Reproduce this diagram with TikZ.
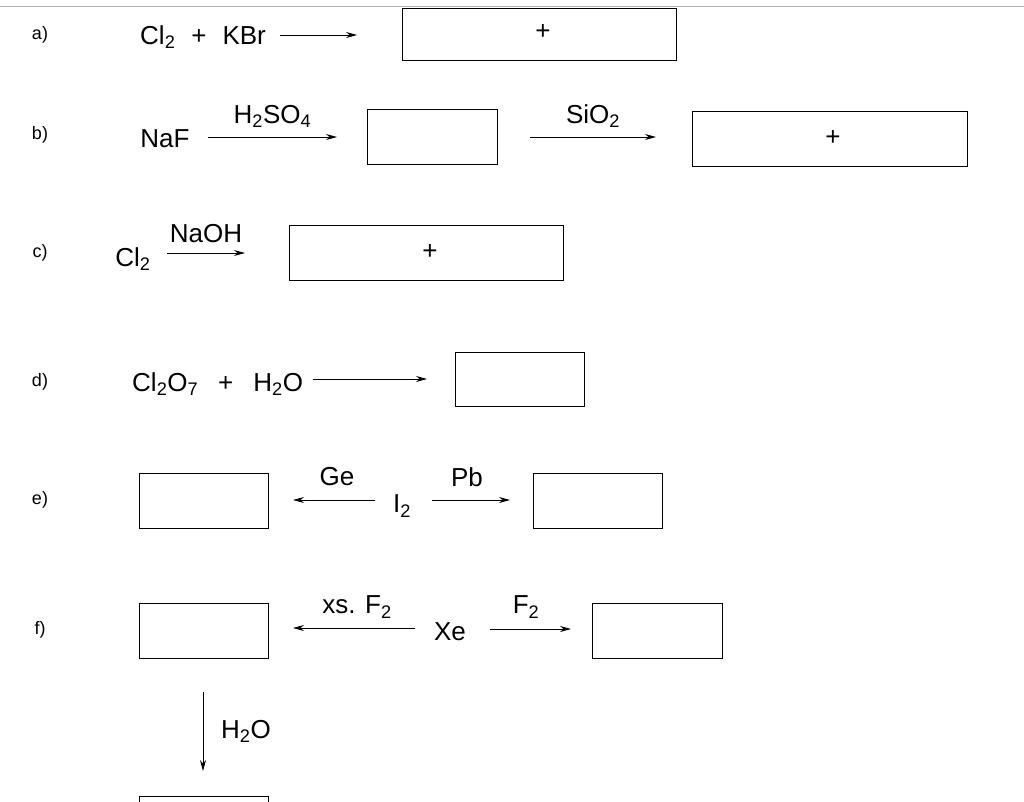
\documentclass[tikz,border=0pt]{standalone}
\usepackage{fontspec}
\setmainfont{Liberation Sans}
\usetikzlibrary{arrows.meta}
\begin{document}
\begin{tikzpicture}[x=1pt,y=-1pt,
  arr/.style={-{Stealth[length=11pt,width=6pt]},line width=0.9pt},
  lbl/.style={font=\fontsize{18}{22}\selectfont},
  txt/.style={font=\fontsize{26}{30}\selectfont,inner sep=0}]
\clip (0,0) rectangle (1024,801);
\useasboundingbox (0,0) rectangle (1024,801);
\fill[white] (0,0) rectangle (1024,801);
\draw[gray!60,line width=1pt] (0,6) -- (1024,6);
% a
\node[lbl] (la) at (40,35) {a)};
\node[txt,anchor=west] (ra) at (140,37) {Cl\textsubscript{2}\hspace{16pt}+\hspace{16pt}KBr};
\coordinate (a1) at (280,35); \coordinate (a2) at (357,35);
\draw[arr] (a1) -- (a2);
\draw[line width=0.9pt] (402,8) rectangle (676,60);
\node[txt] (pa) at (543,32) {+};
% b
\node[lbl] (lb) at (40,135) {b)};
\node[txt] (nb) at (165,139) {NaF};
\coordinate (b1) at (208,137); \coordinate (b2) at (337,137);
\draw[arr] (b1) -- node[txt,above=9pt] {H\textsubscript{2}SO\textsubscript{4}} (b2);
\draw[line width=0.9pt] (367,109) rectangle (497,164);
\coordinate (b3) at (530,137); \coordinate (b4) at (656,137);
\draw[arr] (b3) -- node[txt,above=9pt] {SiO\textsubscript{2}} (b4);
\draw[line width=0.9pt] (692,111) rectangle (967,166);
\node[txt] (pb) at (833,138) {+};
% c
\node[lbl] (lc) at (40,253) {c)};
\node[txt] (nc) at (133,259) {Cl\textsubscript{2}};
\coordinate (c1) at (167,253); \coordinate (c2) at (245,253);
\draw[arr] (c1) -- node[txt,above=10pt] {NaOH} (c2);
\draw[line width=0.9pt] (289,225) rectangle (563,280);
\node[txt] (pc) at (430,252) {+};
% d
\node[lbl] (ld) at (40,382) {d)};
\node[txt,anchor=west] (nd) at (132,384) {Cl\textsubscript{2}O\textsubscript{7}\hspace{20pt}+\hspace{20pt}H\textsubscript{2}O};
\coordinate (d1) at (313,379); \coordinate (d2) at (427,379);
\draw[arr] (d1) -- (d2);
\draw[line width=0.9pt] (455,352) rectangle (584,406);
% e
\node[lbl] (le) at (40,500) {e)};
\draw[line width=0.9pt] (139,473) rectangle (268,528);
\coordinate (e1) at (375,500); \coordinate (e2) at (293,500);
\draw[arr] (e1) -- (e2);
\node[txt] (ge) at (337,477) {Ge};
\node[txt] (ie) at (402,506) {I\textsubscript{2}};
\coordinate (e3) at (432,500); \coordinate (e4) at (510,500);
\draw[arr] (e3) -- (e4);
\node[txt] (pbe) at (467,477) {Pb};
\draw[line width=0.9pt] (533,473) rectangle (662,528);
% f
\node[lbl] (lf) at (40,630) {f)};
\draw[line width=0.9pt] (139,603) rectangle (268,658);
\coordinate (f1) at (415,628); \coordinate (f2) at (293,628);
\draw[arr] (f1) -- (f2);
\node[txt] (xs) at (357,607) {xs. F\textsubscript{2}};
\node[txt] (xe) at (450,632) {Xe};
\coordinate (f3) at (490,629); \coordinate (f4) at (571,629);
\draw[arr] (f3) -- (f4);
\node[txt] (ff) at (526,607) {F\textsubscript{2}};
\draw[line width=0.9pt] (592,603) rectangle (722,658);
\coordinate (g1) at (203,692); \coordinate (g2) at (203,771);
\draw[arr] (g1) -- (g2);
\node[txt] (hw) at (246,731) {H\textsubscript{2}O};
\draw[line width=0.9pt] (139,796) rectangle (268,850);
\end{tikzpicture}
\end{document}
